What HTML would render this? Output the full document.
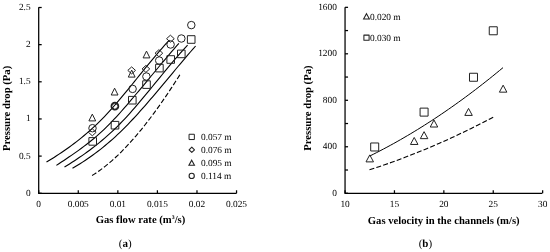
<!DOCTYPE html>
<html><head><meta charset="utf-8"><style>
html,body{margin:0;padding:0;background:#fff;}
body{width:550px;height:252px;overflow:hidden;}
svg{display:block;}
text{font-family:"Liberation Serif","Times New Roman",serif;fill:#000;text-rendering:geometricPrecision;}
</style></head><body>
<svg width="550" height="252" viewBox="0 0 550 252">
<rect width="550" height="252" fill="#fff"/>
<path d="M38.7 7.3V193.25H236.6" fill="none" stroke="#000" stroke-width="1.25"/>
<path d="M38.7 193.25h3" stroke="#000" stroke-width="1.25"/>
<text x="30.6" y="195.75" font-size="9.33" text-anchor="end" font-weight="normal">0</text>
<path d="M38.7 156.1h3" stroke="#000" stroke-width="1.25"/>
<text x="30.6" y="158.6" font-size="9.33" text-anchor="end" font-weight="normal">0.5</text>
<path d="M38.7 118.95h3" stroke="#000" stroke-width="1.25"/>
<text x="30.6" y="121.45" font-size="9.33" text-anchor="end" font-weight="normal">1</text>
<path d="M38.7 81.8h3" stroke="#000" stroke-width="1.25"/>
<text x="30.6" y="84.3" font-size="9.33" text-anchor="end" font-weight="normal">1.5</text>
<path d="M38.7 44.65h3" stroke="#000" stroke-width="1.25"/>
<text x="30.6" y="47.15" font-size="9.33" text-anchor="end" font-weight="normal">2</text>
<path d="M38.7 7.5h3" stroke="#000" stroke-width="1.25"/>
<text x="30.6" y="10" font-size="9.33" text-anchor="end" font-weight="normal">2.5</text>
<path d="M38.7 193.25v-3" stroke="#000" stroke-width="1.25"/>
<text x="38.7" y="207.2" font-size="9.33" text-anchor="middle" font-weight="normal">0</text>
<path d="M78.27 193.25v-3" stroke="#000" stroke-width="1.25"/>
<text x="78.27" y="207.2" font-size="9.33" text-anchor="middle" font-weight="normal">0.005</text>
<path d="M117.84 193.25v-3" stroke="#000" stroke-width="1.25"/>
<text x="117.84" y="207.2" font-size="9.33" text-anchor="middle" font-weight="normal">0.01</text>
<path d="M157.41 193.25v-3" stroke="#000" stroke-width="1.25"/>
<text x="157.41" y="207.2" font-size="9.33" text-anchor="middle" font-weight="normal">0.015</text>
<path d="M196.98 193.25v-3" stroke="#000" stroke-width="1.25"/>
<text x="196.98" y="207.2" font-size="9.33" text-anchor="middle" font-weight="normal">0.02</text>
<path d="M236.55 193.25v-3" stroke="#000" stroke-width="1.25"/>
<text x="236.55" y="207.2" font-size="9.33" text-anchor="middle" font-weight="normal">0.025</text>
<text x="140.5" y="222.8" font-size="10.67" text-anchor="middle" font-weight="bold">Gas flow rate (m<tspan font-size="5.8" dy="-3.9">3</tspan><tspan dy="3.9">/s)</tspan></text>
<text transform="translate(9.9 108.4) rotate(-90)" font-size="10.67" font-weight="bold" text-anchor="middle">Pressure drop (Pa)</text>
<text x="125.2" y="247.1" font-size="11" text-anchor="middle">(<tspan font-weight="bold">a</tspan>)</text>
<path d="M46.5 162.07 L49.01 160.54 L51.52 158.99 L54.03 157.41 L56.54 155.8 L59.05 154.16 L61.56 152.48 L64.07 150.77 L66.58 149.02 L69.09 147.23 L71.6 145.4 L74.11 143.52 L76.62 141.6 L79.13 139.63 L81.64 137.61 L84.15 135.53 L86.66 133.4 L89.17 131.21 L91.68 128.96 L94.19 126.65 L96.7 124.28 L99.21 121.84 L101.72 119.33 L104.23 116.76 L106.74 114.11 L109.26 111.39 L111.77 108.6 L114.28 105.76 L116.79 102.87 L119.3 99.93 L121.81 96.95 L124.32 93.93 L126.83 90.89 L129.34 87.82 L131.85 84.73 L134.36 81.63 L136.87 78.52 L139.38 75.41 L141.89 72.3 L144.4 69.2 L146.91 66.12 L149.42 63.06 L151.93 60.03 L154.44 57.03 L156.95 54.06 L159.46 51.14 L161.97 48.27 L164.48 45.46 L166.99 42.7 L169.5 40.01" fill="none" stroke="#000" stroke-width="1.1"/>
<path d="M56.4 165.38 L58.9 163.73 L61.4 162.08 L63.9 160.42 L66.4 158.75 L68.9 157.07 L71.4 155.37 L73.9 153.64 L76.4 151.89 L78.9 150.1 L81.4 148.28 L83.9 146.42 L86.4 144.51 L88.9 142.55 L91.4 140.54 L93.9 138.48 L96.4 136.35 L98.9 134.16 L101.4 131.9 L103.9 129.56 L106.4 127.15 L108.9 124.66 L111.4 122.1 L113.9 119.47 L116.4 116.78 L118.9 114.04 L121.4 111.25 L123.9 108.41 L126.4 105.54 L128.9 102.63 L131.4 99.7 L133.9 96.74 L136.4 93.77 L138.9 90.78 L141.4 87.79 L143.9 84.79 L146.4 81.78 L148.9 78.77 L151.4 75.76 L153.9 72.75 L156.4 69.75 L158.9 66.76 L161.4 63.77 L163.9 60.79 L166.4 57.83 L168.9 54.89 L171.4 51.96 L173.9 49.06 L176.4 46.18 L178.9 43.33" fill="none" stroke="#000" stroke-width="1.1"/>
<path d="M64.5 167.07 L67.01 165.51 L69.52 163.93 L72.04 162.32 L74.55 160.69 L77.06 159.03 L79.57 157.33 L82.09 155.61 L84.6 153.84 L87.11 152.04 L89.62 150.2 L92.13 148.31 L94.65 146.38 L97.16 144.4 L99.67 142.36 L102.18 140.28 L104.7 138.14 L107.21 135.94 L109.72 133.69 L112.23 131.37 L114.74 128.98 L117.26 126.53 L119.77 124.01 L122.28 121.42 L124.79 118.76 L127.31 116.04 L129.82 113.26 L132.33 110.43 L134.84 107.55 L137.36 104.63 L139.87 101.68 L142.38 98.69 L144.89 95.67 L147.4 92.63 L149.92 89.58 L152.43 86.51 L154.94 83.44 L157.45 80.37 L159.97 77.3 L162.48 74.23 L164.99 71.19 L167.5 68.16 L170.01 65.15 L172.53 62.17 L175.04 59.23 L177.55 56.33 L180.06 53.47 L182.58 50.66 L185.09 47.9 L187.6 45.21" fill="none" stroke="#000" stroke-width="1.1"/>
<path d="M72.5 168.28 L75.01 166.8 L77.52 165.28 L80.04 163.72 L82.55 162.12 L85.06 160.47 L87.57 158.77 L90.09 157.03 L92.6 155.24 L95.11 153.4 L97.62 151.52 L100.13 149.58 L102.65 147.58 L105.16 145.54 L107.67 143.44 L110.18 141.28 L112.7 139.07 L115.21 136.79 L117.72 134.46 L120.23 132.07 L122.74 129.62 L125.26 127.1 L127.77 124.54 L130.28 121.92 L132.79 119.25 L135.31 116.54 L137.82 113.78 L140.33 110.99 L142.84 108.16 L145.36 105.29 L147.87 102.4 L150.38 99.48 L152.89 96.54 L155.4 93.58 L157.92 90.6 L160.43 87.6 L162.94 84.6 L165.45 81.58 L167.97 78.57 L170.48 75.55 L172.99 72.53 L175.5 69.52 L178.01 66.52 L180.53 63.53 L183.04 60.56 L185.55 57.6 L188.06 54.66 L190.58 51.75 L193.09 48.86 L195.6 46.01" fill="none" stroke="#000" stroke-width="1.1"/>
<path d="M92.1 175.48 L93.91 174.36 L95.73 173.18 L97.54 171.96 L99.36 170.69 L101.17 169.38 L102.99 168.02 L104.8 166.62 L106.61 165.17 L108.43 163.68 L110.24 162.14 L112.06 160.56 L113.87 158.94 L115.69 157.28 L117.5 155.57 L119.31 153.82 L121.13 152.03 L122.94 150.2 L124.76 148.34 L126.57 146.43 L128.39 144.48 L130.2 142.49 L132.01 140.47 L133.83 138.4 L135.64 136.3 L137.46 134.17 L139.27 131.99 L141.09 129.79 L142.9 127.54 L144.71 125.26 L146.53 122.95 L148.34 120.6 L150.16 118.21 L151.97 115.8 L153.79 113.35 L155.6 110.87 L157.41 108.36 L159.23 105.81 L161.04 103.24 L162.86 100.63 L164.67 97.99 L166.49 95.33 L168.3 92.63 L170.11 89.91 L171.93 87.16 L173.74 84.38 L175.56 81.57 L177.37 78.74 L179.19 75.88 L181 72.99" fill="none" stroke="#000" stroke-width="1.1" stroke-dasharray="5 2.2"/>
<rect x="88.9" y="137.6" width="7.6" height="7.6" fill="none" stroke="#222" stroke-width="1.0" stroke-linejoin="round"/>
<rect x="111.2" y="121.4" width="7.6" height="7.6" fill="none" stroke="#222" stroke-width="1.0" stroke-linejoin="round"/>
<rect x="128.5" y="96.4" width="7.6" height="7.6" fill="none" stroke="#222" stroke-width="1.0" stroke-linejoin="round"/>
<rect x="142.7" y="80.8" width="7.6" height="7.6" fill="none" stroke="#222" stroke-width="1.0" stroke-linejoin="round"/>
<rect x="155.6" y="64.3" width="7.6" height="7.6" fill="none" stroke="#222" stroke-width="1.0" stroke-linejoin="round"/>
<rect x="166.9" y="55.7" width="7.6" height="7.6" fill="none" stroke="#222" stroke-width="1.0" stroke-linejoin="round"/>
<rect x="177.5" y="50.1" width="7.6" height="7.6" fill="none" stroke="#222" stroke-width="1.0" stroke-linejoin="round"/>
<rect x="187.4" y="35.7" width="7.6" height="7.6" fill="none" stroke="#222" stroke-width="1.0" stroke-linejoin="round"/>
<circle cx="114.9" cy="106.2" r="3.5" fill="none" stroke="#222" stroke-width="1.7"/>
<circle cx="92.5" cy="128.2" r="3.75" fill="none" stroke="#222" stroke-width="1.0"/>
<circle cx="132.6" cy="88.9" r="3.75" fill="none" stroke="#222" stroke-width="1.0"/>
<circle cx="146.4" cy="76.5" r="3.75" fill="none" stroke="#222" stroke-width="1.0"/>
<circle cx="159.2" cy="60.5" r="3.75" fill="none" stroke="#222" stroke-width="1.0"/>
<circle cx="170.6" cy="44.5" r="3.75" fill="none" stroke="#222" stroke-width="1.0"/>
<circle cx="181.35" cy="38.5" r="3.75" fill="none" stroke="#222" stroke-width="1.0"/>
<circle cx="191.3" cy="25.1" r="3.75" fill="none" stroke="#222" stroke-width="1.0"/>
<path d="M92.3 128.8L96.15 132.3L92.3 135.8L88.45 132.3Z" fill="none" stroke="#222" stroke-width="1.0" stroke-linejoin="round"/>
<path d="M114.9 102.7L118.75 106.2L114.9 109.7L111.05 106.2Z" fill="none" stroke="#222" stroke-width="1.0" stroke-linejoin="round"/>
<path d="M131.65 66.9L135.5 70.4L131.65 73.9L127.8 70.4Z" fill="none" stroke="#222" stroke-width="1.0" stroke-linejoin="round"/>
<path d="M145.9 65.4L149.75 68.9L145.9 72.4L142.05 68.9Z" fill="none" stroke="#222" stroke-width="1.0" stroke-linejoin="round"/>
<path d="M158.9 49.7L162.75 53.2L158.9 56.7L155.05 53.2Z" fill="none" stroke="#222" stroke-width="1.0" stroke-linejoin="round"/>
<path d="M170.4 35.2L174.25 38.7L170.4 42.2L166.55 38.7Z" fill="none" stroke="#222" stroke-width="1.0" stroke-linejoin="round"/>
<path d="M92.3 114.1L95.7 120.9L88.9 120.9Z" fill="none" stroke="#222" stroke-width="1.0" stroke-linejoin="miter"/>
<path d="M114.6 88.2L118 95L111.2 95Z" fill="none" stroke="#222" stroke-width="1.0" stroke-linejoin="miter"/>
<path d="M146.5 51.1L149.9 57.9L143.1 57.9Z" fill="none" stroke="#222" stroke-width="1.0" stroke-linejoin="miter"/>
<path d="M131.7 70.1L135.1 77.1L128.3 77.1Z" fill="none" stroke="#222" stroke-width="1.0" stroke-linejoin="miter"/>
<rect x="189.05" y="134.25" width="5.3" height="5.3" fill="none" stroke="#222" stroke-width="1.0" stroke-linejoin="round"/>
<text x="201" y="139.9" font-size="9.33" text-anchor="start" font-weight="normal">0.057 m</text>
<path d="M191.8 147.2L194.5 149.8L191.8 152.4L189.1 149.8Z" fill="none" stroke="#222" stroke-width="1.1" stroke-linejoin="round"/>
<text x="201" y="152.8" font-size="9.33" text-anchor="start" font-weight="normal">0.076 m</text>
<path d="M191.7 160.2L194.45 165.2L188.95 165.2Z" fill="none" stroke="#222" stroke-width="1.1" stroke-linejoin="miter"/>
<text x="201" y="165.7" font-size="9.33" text-anchor="start" font-weight="normal">0.095 m</text>
<circle cx="191.7" cy="175.9" r="2.6" fill="none" stroke="#222" stroke-width="1.1"/>
<text x="201" y="178.9" font-size="9.33" text-anchor="start" font-weight="normal">0.114 m</text>
<path d="M345.05 7.3V193.25H542.3" fill="none" stroke="#000" stroke-width="1.25"/>
<path d="M345.05 193.25h3" stroke="#000" stroke-width="1.25"/>
<text x="336.8" y="195.75" font-size="9.33" text-anchor="end" font-weight="normal">0</text>
<path d="M345.05 170.01h3" stroke="#000" stroke-width="1.25"/>
<path d="M345.05 146.77h3" stroke="#000" stroke-width="1.25"/>
<text x="336.8" y="149.27" font-size="9.33" text-anchor="end" font-weight="normal">400</text>
<path d="M345.05 123.53h3" stroke="#000" stroke-width="1.25"/>
<path d="M345.05 100.29h3" stroke="#000" stroke-width="1.25"/>
<text x="336.8" y="102.79" font-size="9.33" text-anchor="end" font-weight="normal">800</text>
<path d="M345.05 77.05h3" stroke="#000" stroke-width="1.25"/>
<path d="M345.05 53.81h3" stroke="#000" stroke-width="1.25"/>
<text x="336.8" y="56.31" font-size="9.33" text-anchor="end" font-weight="normal">1200</text>
<path d="M345.05 30.57h3" stroke="#000" stroke-width="1.25"/>
<path d="M345.05 7.33h3" stroke="#000" stroke-width="1.25"/>
<text x="336.8" y="9.83" font-size="9.33" text-anchor="end" font-weight="normal">1600</text>
<path d="M345.05 193.25v-3" stroke="#000" stroke-width="1.25"/>
<text x="345.05" y="207.2" font-size="9.33" text-anchor="middle" font-weight="normal">10</text>
<path d="M394.45 193.25v-3" stroke="#000" stroke-width="1.25"/>
<text x="394.45" y="207.2" font-size="9.33" text-anchor="middle" font-weight="normal">15</text>
<path d="M443.85 193.25v-3" stroke="#000" stroke-width="1.25"/>
<text x="443.85" y="207.2" font-size="9.33" text-anchor="middle" font-weight="normal">20</text>
<path d="M493.25 193.25v-3" stroke="#000" stroke-width="1.25"/>
<text x="493.25" y="207.2" font-size="9.33" text-anchor="middle" font-weight="normal">25</text>
<path d="M542.65 193.25v-3" stroke="#000" stroke-width="1.25"/>
<text x="542.65" y="207.2" font-size="9.33" text-anchor="middle" font-weight="normal">30</text>
<text x="443.7" y="223.5" font-size="10.67" text-anchor="middle" font-weight="bold">Gas velocity in the channels (m/s)</text>
<text transform="translate(311.3 108.1) rotate(-90)" font-size="10.67" font-weight="bold" text-anchor="middle">Pressure drop (Pa)</text>
<text x="425.4" y="247.1" font-size="11" text-anchor="middle">(<tspan font-weight="bold">b</tspan>)</text>
<path d="M369.8 156.01 L373.22 154.31 L376.63 152.58 L380.05 150.82 L383.46 149.03 L386.88 147.21 L390.29 145.36 L393.71 143.49 L397.12 141.58 L400.54 139.64 L403.95 137.67 L407.37 135.67 L410.78 133.65 L414.2 131.59 L417.62 129.5 L421.03 127.38 L424.45 125.24 L427.86 123.06 L431.28 120.85 L434.69 118.62 L438.11 116.35 L441.52 114.06 L444.94 111.73 L448.35 109.38 L451.77 106.99 L455.18 104.58 L458.6 102.13 L462.02 99.66 L465.43 97.16 L468.85 94.62 L472.26 92.06 L475.68 89.47 L479.09 86.84 L482.51 84.19 L485.92 81.51 L489.34 78.8 L492.75 76.05 L496.17 73.28 L499.58 70.48 L503 67.65" fill="none" stroke="#000" stroke-width="1.0"/>
<path d="M369.5 169.8 L372.68 168.77 L375.86 167.73 L379.04 166.67 L382.22 165.59 L385.4 164.49 L388.58 163.38 L391.76 162.25 L394.94 161.1 L398.12 159.93 L401.29 158.75 L404.47 157.55 L407.65 156.33 L410.83 155.1 L414.01 153.85 L417.19 152.58 L420.37 151.3 L423.55 149.99 L426.73 148.67 L429.91 147.34 L433.09 145.98 L436.27 144.61 L439.45 143.22 L442.63 141.82 L445.81 140.4 L448.99 138.96 L452.17 137.5 L455.35 136.03 L458.53 134.54 L461.71 133.03 L464.88 131.5 L468.06 129.96 L471.24 128.4 L474.42 126.82 L477.6 125.23 L480.78 123.62 L483.96 121.99 L487.14 120.34 L490.32 118.68 L493.5 117" fill="none" stroke="#000" stroke-width="1.1" stroke-dasharray="5 2.2"/>
<path d="M369.75 154.89L373.5 161.89L366 161.89Z" fill="none" stroke="#222" stroke-width="1.0" stroke-linejoin="miter"/>
<path d="M414.21 137.46L417.96 144.46L410.46 144.46Z" fill="none" stroke="#222" stroke-width="1.0" stroke-linejoin="miter"/>
<path d="M424.09 131.65L427.84 138.65L420.34 138.65Z" fill="none" stroke="#222" stroke-width="1.0" stroke-linejoin="miter"/>
<path d="M433.97 120.03L437.72 127.03L430.22 127.03Z" fill="none" stroke="#222" stroke-width="1.0" stroke-linejoin="miter"/>
<path d="M468.55 108.41L472.3 115.41L464.8 115.41Z" fill="none" stroke="#222" stroke-width="1.0" stroke-linejoin="miter"/>
<path d="M503.13 85.17L506.88 92.17L499.38 92.17Z" fill="none" stroke="#222" stroke-width="1.0" stroke-linejoin="miter"/>
<rect x="370.69" y="142.97" width="8" height="8" fill="none" stroke="#222" stroke-width="1.0" stroke-linejoin="round"/>
<rect x="420.09" y="108.11" width="8" height="8" fill="none" stroke="#222" stroke-width="1.0" stroke-linejoin="round"/>
<rect x="469.49" y="73.25" width="8" height="8" fill="none" stroke="#222" stroke-width="1.0" stroke-linejoin="round"/>
<rect x="489.25" y="26.77" width="8" height="8" fill="none" stroke="#222" stroke-width="1.0" stroke-linejoin="round"/>
<path d="M366.5 13.65L369.4 18.95L363.6 18.95Z" fill="none" stroke="#222" stroke-width="1.05" stroke-linejoin="miter"/>
<text x="370" y="19.5" font-size="9.33" text-anchor="start" font-weight="normal">0.020 m</text>
<rect x="363.9" y="35.1" width="5.2" height="5.2" fill="none" stroke="#222" stroke-width="1.05" stroke-linejoin="round"/>
<text x="370" y="40.7" font-size="9.33" text-anchor="start" font-weight="normal">0.030 m</text>
</svg>
</body></html>
